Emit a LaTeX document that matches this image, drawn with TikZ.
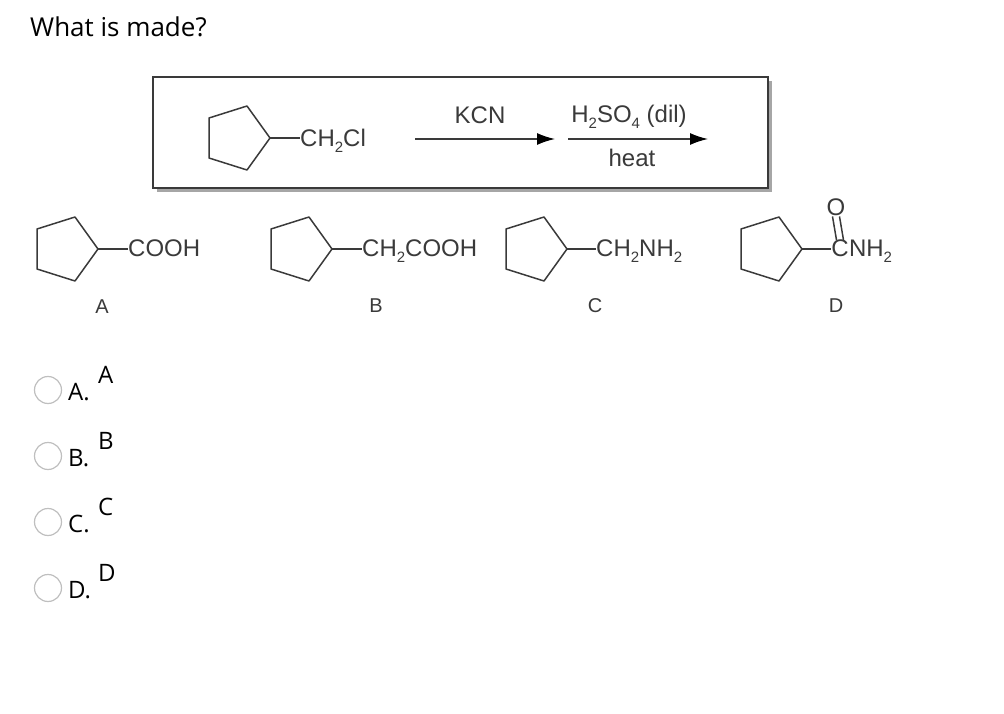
\documentclass[tikz,border=0pt]{standalone}
\usepackage{fontspec}
\setmainfont{Open Sans}
\newfontfamily\chemfont{Liberation Sans}
\usetikzlibrary{arrows.meta}
\definecolor{chemgray}{HTML}{3A3A3A}
\newcommand{\lowtwo}[1]{\raisebox{-0.22em}{\fontsize{15}{15}\selectfont #1}}
\tikzset{
  chem/.style={font=\chemfont\fontsize{24}{28}\selectfont,text=chemgray,inner sep=0pt,anchor=base west},
  chemc/.style={font=\chemfont\fontsize{24}{28}\selectfont,text=chemgray,inner sep=0pt,anchor=base},
  tag/.style={font=\chemfont\fontsize{20}{24}\selectfont,text=chemgray,inner sep=0pt,anchor=base},
  bond/.style={chemgray,line width=1.5pt},
  opt/.style={font=\fontsize{24}{28}\selectfont,text=black,inner sep=0pt,anchor=base west},
}
\begin{document}
\begin{tikzpicture}[x=1pt,y=-1pt]
\useasboundingbox (0,0) rectangle (1004,714);
\node[opt,font=\fontsize{26}{30}\selectfont] (question) at (30,37) {What is made?};
% box with its shadow
\fill[black!35] (157,81) rectangle (772,192);
\draw[fill=white,draw=chemgray,line width=1.7pt] (153,77) rectangle (768,188);
% rings, apex is where the side chain starts
\foreach \nm/\x/\y in {start/270/138,a/98/249,b/332/249,c/567/249,d/802/249}
  {\coordinate (\nm) at (\x,\y);
   \draw[bond,line join=round] (\nm) -- ++(-23,-32) -- ++(-38,12) -- ++(0,40) -- ++(38,12) -- cycle;}
\node[chem] (startl) at (300,147) {CH\lowtwo{2}Cl};
\node[chem] (al) at (128,257) {COOH};
\node[chem] (bl) at (362,257) {CH\lowtwo{2}COOH};
\node[chem] (cl) at (596,257) {CH\lowtwo{2}NH\lowtwo{2}};
\node[chemc] (dc) at (840,257) {C};
\node[chem] (dn) at (dc.base east) {NH\lowtwo{2}};
\node[chemc] (do) at (836,215) {O};
\draw[bond] (start) -- (startl.west |- start);
\draw[bond] (a) -- (al.west |- a);
\draw[bond] (b) -- (bl.west |- b);
\draw[bond] (c) -- (cl.west |- c);
\draw[bond] (d) -- (dc.west |- d);
\draw[bond] ([xshift=-3.5pt,yshift=-1pt]do.south) -- ([xshift=-3.5pt]dc.north);
\draw[bond] ([xshift=3.5pt,yshift=-1pt]do.south) -- ([xshift=3.5pt]dc.north);
% reaction arrows
\coordinate (ar1) at (415,139);
\coordinate (ar2) at (555,139);
\coordinate (ar3) at (568,139);
\coordinate (ar4) at (708,139);
\draw[bond,-{Latex[length=18pt,width=12pt,black]}] (ar1) -- (ar2);
\draw[bond,-{Latex[length=18pt,width=12pt,black]}] (ar3) -- (ar4);
\node[chemc] (kcn) at (480,124) {KCN};
\node[chemc] (acid) at (629,123) {H\lowtwo{2}SO\lowtwo{4} (dil)};
\node[chemc] (hot) at (632,167) {heat};
\node[tag] (ta) at (102,313) {A};
\node[tag] (tb) at (376,312) {B};
\node[tag] (tc) at (595,312) {C};
\node[tag] (td) at (836,312) {D};
% answer options
\foreach \nm/\y/\t in {A/390/A,B/456/B,C/522/C,D/588/D}
  {\node[circle,draw=black!25,fill=white,line width=1.2pt,minimum size=27pt,inner sep=0pt] (radio\nm) at (48,\y) {};
   \node[opt] (opt\nm) at (68,\y+10) {\t.};
   \node[opt] (ans\nm) at (98,\y-7) {\t};}
\end{tikzpicture}
\end{document}
